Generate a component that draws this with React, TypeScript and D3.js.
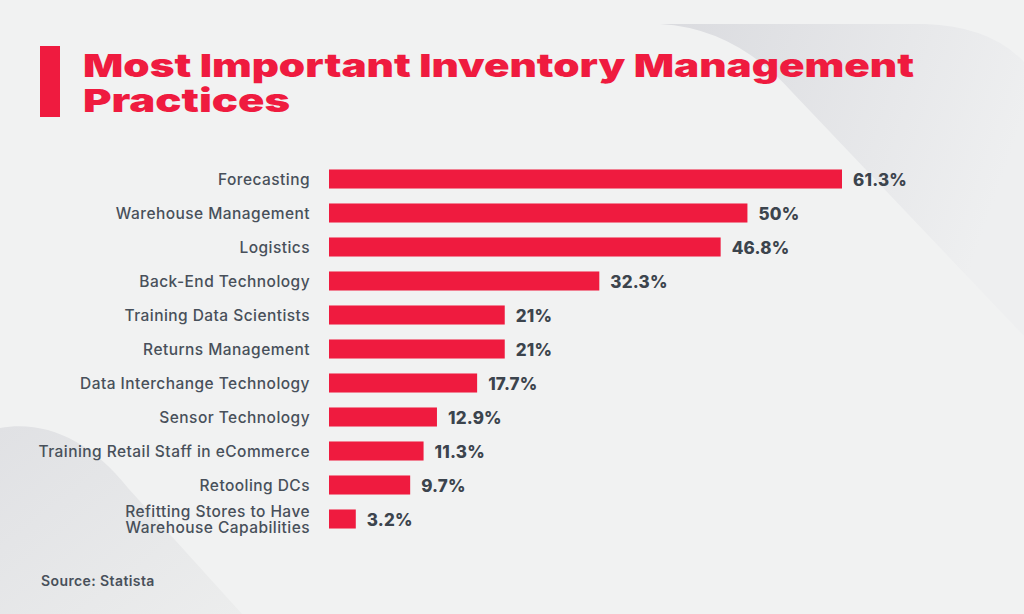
import * as d3 from "d3";

const WIDTH = 1024;
const HEIGHT = 614;

const categories = [
  "Forecasting",
  "Warehouse Management",
  "Logistics",
  "Back-End Technology",
  "Training Data Scientists",
  "Returns Management",
  "Data Interchange Technology",
  "Sensor Technology",
  "Training Retail Staff in eCommerce",
  "Retooling DCs",
  "Refitting Stores to Have\nWarehouse Capabilities",
];
const values = [61.3, 50, 46.8, 32.3, 21, 21, 17.7, 12.9, 11.3, 9.7, 3.2];
const titleLines = ["Most Important Inventory Management", "Practices"];
const sourceNote = "Source: Statista";

const RED = "#ef1b3f";
const TEXT = "#48505a";
const FONT = "Inter, 'Open Sans', sans-serif";

// the heading face is an extended black sans, so each line is stretched to its width
const titleWidths = [831, 207];

export default function App() {
  const x = d3.scaleLinear().domain([0, 61.3]).range([329, 842]);
  const y = d3
    .scaleBand<string>()
    .domain(categories)
    .range([162, 536])
    .paddingInner(0.44)
    .paddingOuter(0.22);

  const fmt = (v: number) => `${v}%`;

  return (
    <svg
      width={WIDTH}
      height={HEIGHT}
      viewBox={`0 0 ${WIDTH} ${HEIGHT}`}
      style={{ position: "absolute", left: 0, top: 0, display: "block" }}
    >
      <defs>
        <linearGradient id="shapeTop" x1="0" y1="0" x2="1" y2="0.3">
          <stop offset="0" stopColor="#dadbdf" />
          <stop offset="1" stopColor="#eeeff0" />
        </linearGradient>
        <linearGradient id="shapeBottom" x1="0" y1="0" x2="1" y2="1">
          <stop offset="0" stopColor="#e0e1e4" />
          <stop offset="1" stopColor="#eceded" />
        </linearGradient>
      </defs>
      <rect width={WIDTH} height={HEIGHT} fill="#f1f2f2" />

      {/* background swooshes */}
      <path
        d="M660,24 L925,24 Q990,26 1024,62 L1024,336 L792,92 Q735,28 660,24 Z"
        fill="url(#shapeTop)"
      />
      <path
        d="M0,428 C45,420 90,440 128,488 L242,614 L0,614 Z"
        fill="url(#shapeBottom)"
      />

      {/* title */}
      <rect x={40} y={46} width={20} height={71} fill={RED} />
      {titleLines.map((line, i) => (
        <text
          key={line}
          x={83}
          y={77 + i * 35}
          fill={RED}
          fontFamily={FONT}
          fontWeight={900}
          fontSize={32}
          textLength={titleWidths[i]}
          lengthAdjust="spacingAndGlyphs"
        >
          {line}
        </text>
      ))}

      {/* bars */}
      {categories.map((c, i) => {
        const by = y(c)!;
        const cy = by + y.bandwidth() / 2;
        const lines = c.split("\n");
        return (
          <g key={c}>
            <rect
              x={x(0)}
              y={by}
              width={x(values[i]) - x(0)}
              height={y.bandwidth()}
              fill={RED}
            />
            <text
              x={310}
              y={cy - ((lines.length - 1) * 16) / 2}
              textAnchor="end"
              dominantBaseline="central"
              fill={TEXT}
              fontFamily={FONT}
              fontWeight={500}
              fontSize={15.5}
              letterSpacing={0.45}
            >
              {lines.map((l, j) => (
                <tspan key={j} x={310} dy={j === 0 ? 0 : 16}>
                  {l}
                </tspan>
              ))}
            </text>
            <text
              x={x(values[i]) + 11}
              y={cy + 1}
              dominantBaseline="central"
              fill="#3c444d"
              fontFamily={FONT}
              fontWeight={800}
              fontSize={17}
              letterSpacing={0.2}
            >
              {fmt(values[i])}
            </text>
          </g>
        );
      })}

      <text
        x={41}
        y={586}
        fill={TEXT}
        fontFamily={FONT}
        fontWeight={600}
        fontSize={14}
        letterSpacing={0.4}
      >
        {sourceNote}
      </text>
    </svg>
  );
}
